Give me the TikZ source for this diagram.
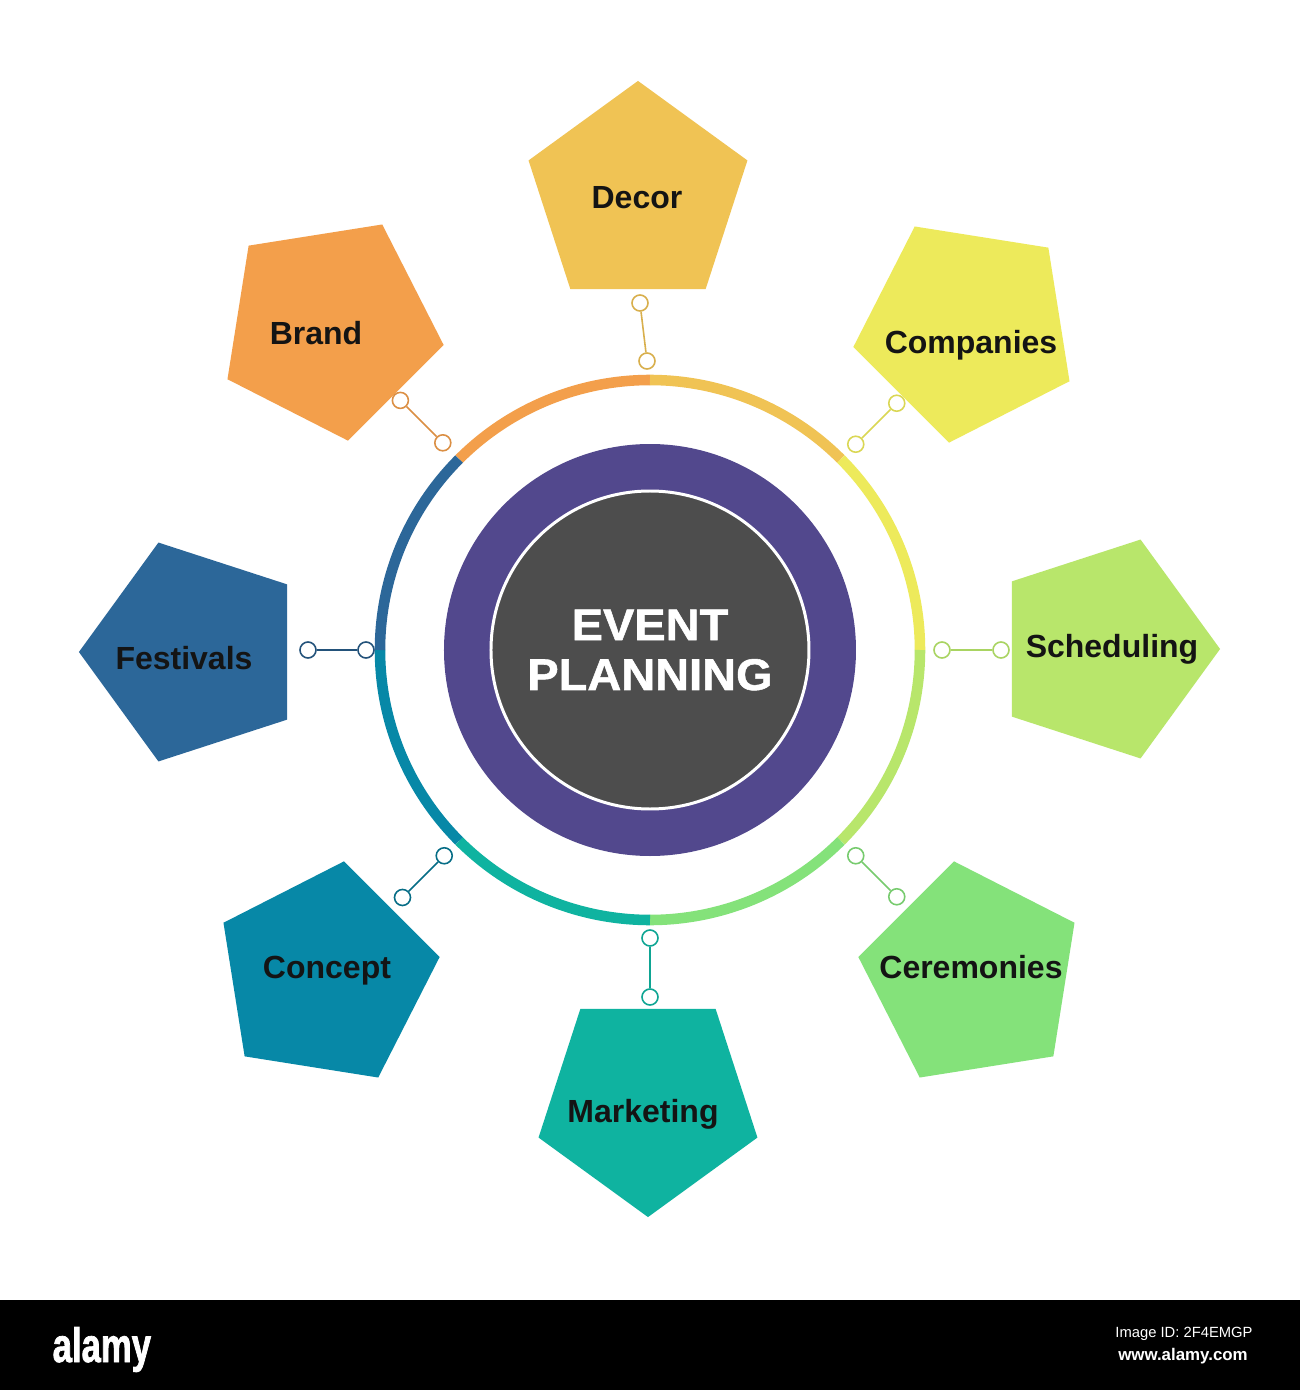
\documentclass[tikz,border=0pt]{standalone}
\usepackage{fontspec}
\setmainfont{Liberation Sans}
\newfontfamily\titlefont{Liberation Sans}[FakeStretch=1.06, FakeBold=1.2]
\newfontfamily\logofont{Liberation Sans}[FakeStretch=0.72, FakeBold=1.5]
\usetikzlibrary{shapes.geometric}

\definecolor{decor}{HTML}{F0C354}
\definecolor{brand}{HTML}{F39F4B}
\definecolor{companies}{HTML}{EDEA5B}
\definecolor{scheduling}{HTML}{B8E66B}
\definecolor{ceremonies}{HTML}{84E27A}
\definecolor{marketing}{HTML}{0FB3A0}
\definecolor{concept}{HTML}{0788A7}
\definecolor{festivals}{HTML}{2C6799}
\definecolor{hubring}{HTML}{52488D}
\definecolor{hubcore}{HTML}{4D4D4D}

\tikzset{
  petal/.style={regular polygon, regular polygon sides=5, minimum size=2.3cm, inner sep=0pt, outer sep=0pt, fill=#1},
  tag/.style={anchor=base, inner sep=0pt, font=\fontsize{9.1}{11}\selectfont\bfseries, text=black!92},
  dot/.style={circle, draw=#1, fill=white, line width=0.45pt, minimum size=0.16cm, inner sep=0pt},
  stem/.style={draw=#1, line width=0.45pt},
  band/.style={draw=#1, line width=3pt}
}

\begin{document}
\begin{tikzpicture}[x=0.01cm,y=0.01cm]
\useasboundingbox (-650,-740) rectangle (650,650);
\fill[white] (-650,-740) rectangle (650,650);
\node[petal=decor, rotate=0] (decor) at (-12,454) {};
\node[petal=brand, rotate=45] (brand) at (-320,323) {};
\node[petal=companies, rotate=-45] (companies) at (317,321) {};
\node[petal=scheduling, rotate=-90] (scheduling) at (455,1) {};
\node[petal=ceremonies, rotate=-135] (ceremonies) at (322,-325) {};
\node[petal=marketing, rotate=180] (marketing) at (-2,-452) {};
\node[petal=concept, rotate=135] (concept) at (-324,-325) {};
\node[petal=festivals, rotate=90] (festivals) at (-456,-2) {};
\node[tag] (decortext) at (-13,441) {Decor};
\node[tag] (brandtext) at (-334,305) {Brand};
\node[tag] (companiestext) at (321,297) {Companies};
\node[tag] (schedulingtext) at (462,-7) {Scheduling};
\node[tag] (ceremoniestext) at (321,-328) {Ceremonies};
\node[tag] (marketingtext) at (-7,-472) {Marketing};
\node[tag] (concepttext) at (-323,-328) {Concept};
\node[tag] (festivalstext) at (-466,-19) {Festivals};
\draw[band=brand] (90:270) arc[start angle=90, end angle=135, radius=270];
\draw[band=decor] (45:270) arc[start angle=45, end angle=90, radius=270];
\draw[band=companies] (0:270) arc[start angle=0, end angle=45, radius=270];
\draw[band=scheduling] (-45:270) arc[start angle=-45, end angle=0, radius=270];
\draw[band=ceremonies] (-90:270) arc[start angle=-90, end angle=-45, radius=270];
\draw[band=marketing] (-135:270) arc[start angle=-135, end angle=-90, radius=270];
\draw[band=concept] (180:270) arc[start angle=180, end angle=225, radius=270];
\draw[band=festivals] (135:270) arc[start angle=135, end angle=180, radius=270];
\node[dot=decor!90!black] (decora) at (-3,289) {};
\node[dot=decor!90!black] (decorb) at (-10,347) {};
\node[dot=brand!90!black] (branda) at (135:293) {};
\node[dot=brand!90!black] (brandb) at (135:353) {};
\node[dot=companies!92!black] (companiesa) at (45:291) {};
\node[dot=companies!92!black] (companiesb) at (45:349) {};
\node[dot=scheduling!92!black] (schedulinga) at (0:292) {};
\node[dot=scheduling!92!black] (schedulingb) at (0:351) {};
\node[dot=ceremonies!90!black] (ceremoniesa) at (-45:291) {};
\node[dot=ceremonies!90!black] (ceremoniesb) at (-45:349) {};
\node[dot=marketing!92!black] (marketinga) at (-90:288) {};
\node[dot=marketing!92!black] (marketingb) at (-90:347) {};
\node[dot=concept!80!black] (concepta) at (-135:291) {};
\node[dot=concept!80!black] (conceptb) at (-135:350) {};
\node[dot=festivals!80!black] (festivalsa) at (180:284) {};
\node[dot=festivals!80!black] (festivalsb) at (180:342) {};
\draw[stem=decor!90!black] (decora) -- (decorb);
\draw[stem=brand!90!black] (branda) -- (brandb);
\draw[stem=companies!92!black] (companiesa) -- (companiesb);
\draw[stem=scheduling!92!black] (schedulinga) -- (schedulingb);
\draw[stem=ceremonies!90!black] (ceremoniesa) -- (ceremoniesb);
\draw[stem=marketing!92!black] (marketinga) -- (marketingb);
\draw[stem=concept!80!black] (concepta) -- (conceptb);
\draw[stem=festivals!80!black] (festivalsa) -- (festivalsb);
\fill[hubring] (0,0) circle[radius=206];
\draw[fill=hubcore, draw=white, line width=0.85pt] (0,0) circle[radius=159];
\node[align=center, text=white, inner sep=0pt, font=\titlefont\fontsize{12.6}{14.2}\selectfont\bfseries] (hub) at (0,0) {EVENT\\PLANNING};
\fill[black] (-650,-650) rectangle (650,-740);
\node[anchor=base west, inner sep=0pt, text=white, font=\logofont\fontsize{13.7}{14}\selectfont\bfseries] (logo) at (-598,-712) {alamy};
\node[anchor=base, inner sep=0pt, text=white, font=\fontsize{4.2}{5}\selectfont] (imageid) at (534,-687) {Image ID: 2F4EMGP};
\node[anchor=base, inner sep=0pt, text=white, font=\fontsize{4.8}{5}\selectfont\bfseries] (site) at (533,-710) {www.alamy.com};
\end{tikzpicture}
\end{document}
